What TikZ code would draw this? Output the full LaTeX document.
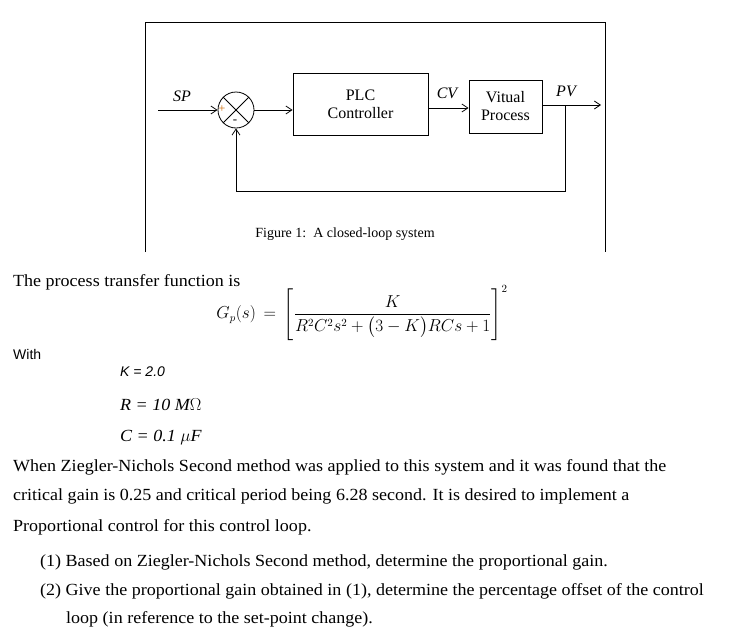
\documentclass[tikz,border=0pt]{standalone}
\usepackage{amsmath}
\usepackage{fontspec}
\setmainfont{Liberation Serif}
\newfontfamily\arialf{Liberation Sans}
\newfontfamily\bodyf[FakeStretch=1.06]{Liberation Serif}
\usetikzlibrary{arrows.meta}
\begin{document}
\begin{tikzpicture}[x=1pt,y=-1pt,
  blk/.style={draw,line width=0.8pt,inner sep=0pt,font=\fontsize{16}{18}\selectfont,align=center},
  arr/.style={line width=0.8pt,-{Straight Barb[length=6pt,width=8pt]}},
  ln/.style={line width=0.8pt},
  txt/.style={anchor=base west,inner sep=0pt,font=\bodyf\fontsize{17}{18}\selectfont},
  lbl/.style={inner sep=0pt,font=\fontsize{16}{18}\selectfont\itshape}]
\useasboundingbox (0,0) rectangle (730,640);
\draw[ln] (145,252) -- (145,22) -- (605,22) -- (605,252);
% diagram
\node[draw,circle,line width=0.8pt,minimum size=36pt,inner sep=0pt] (sum) at (236,110) {};
\draw[ln] (sum.45) -- (sum.225) (sum.135) -- (sum.315);
\node[blk,minimum width=135pt,minimum height=62pt] (plc) at (360.5,104) {PLC\\Controller};
\node[blk,minimum width=73pt,minimum height=53pt] (vp) at (505.5,106.5) {Vitual\\Process};
\coordinate (in) at (158,110);
\coordinate (out) at (601,105);
\coordinate (tap) at (565,105);
\coordinate (fb) at (565,191);
\coordinate (fbl) at (236,191);
\draw[arr] (in) -- (sum.west);
\draw[arr] (sum.east) -- (plc.west |- sum.east);
\draw[arr] (plc.east |- 0,108) -- (vp.west |- 0,108);
\draw[arr] (vp.east |- out) -- (out);
\draw[arr] (tap) -- (fb) -- (fbl) -- (sum.south);
\node[lbl] (sp) at (182,96) {SP};
\node[lbl] (cv) at (447,93) {CV};
\node[lbl] (pv) at (566,91) {PV};
\node[inner sep=0pt,font=\fontsize{12}{12}\selectfont,text=orange!80!black] (plus) at (222,109) {+};
\node[inner sep=0pt,font=\fontsize{13}{12}\selectfont] (minus) at (235,122) {-};
\node[inner sep=0pt,font=\fontsize{14}{16}\selectfont] (cap) at (345,234) {Figure 1:\ \ A closed-loop system};
% text
\node[txt] (t1) at (13,286) {The process transfer function is};
\node[inner sep=0pt,font=\fontsize{16}{18}\selectfont] (eq) at (362,313) {$G_p(s)\,=\,\left[\dfrac{K}{R^2C^2s^2+\bigl(3-K\bigr)RCs+1}\right]^2$};
\node[anchor=base west,inner sep=0pt,font=\arialf\fontsize{14}{15}\selectfont] (with) at (13,359) {With};
\node[anchor=base west,inner sep=0pt,font=\arialf\itshape\fontsize{14}{15}\selectfont] (k) at (120,376) {K = 2.0};
\node[txt] (r) at (120,410) {\itshape R = 10 M$\Omega$};
\node[txt] (c) at (120,441) {\itshape C = 0.1 $\mu$F};
\node[txt] (p1) at (13,471) {When Ziegler-Nichols Second method was applied to this system and it was found that the};
\node[txt] (p2) at (13,500) {critical gain is 0.25 and critical period being 6.28 second. It is desired to implement a};
\node[txt] (p3) at (13,531) {Proportional control for this control loop.};
\node[txt] (q1) at (40,566) {(1) Based on Ziegler-Nichols Second method, determine the proportional gain.};
\node[txt] (q2) at (40,595) {(2) Give the proportional gain obtained in (1), determine the percentage offset of the control};
\node[txt] (q3) at (66,623) {loop (in reference to the set-point change).};
\end{tikzpicture}
\end{document}
